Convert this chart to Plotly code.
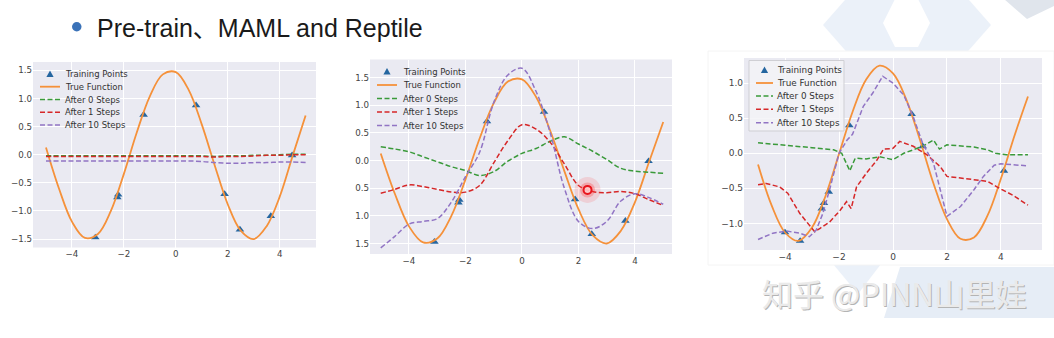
import plotly.graph_objects as go

W, H = 1054, 338

# ---------------- data ----------------
X_GRID = [-5.0, -4.5, -4.0, -3.5, -3.0, -2.5, -2.0, -1.5, -1.0, -0.5, 0.0,
          0.5, 1.0, 1.5, 2.0, 2.5, 3.0, 3.5, 4.0, 4.5, 5.0]

# task shown in the Pre-train and MAML panels
TRUE_A = [0.13, -0.60, -1.19, -1.48, -1.41, -1.00, -0.34, 0.40, 1.04, 1.43, 1.47,
          1.15, 0.54, -0.19, -0.88, -1.35, -1.50, -1.27, -0.75, -0.02, 0.70]
POINTS_A_X = [-3.10, -2.25, -2.22, -1.24, 0.78, 1.88, 2.47, 3.66, 4.48]
POINTS_A_Y = [-1.47, -0.76, -0.71, 0.71, 0.88, -0.70, -1.33, -1.09, -0.01]

PRE_STEP0 = [-0.02, -0.02, -0.02, -0.02, -0.02, -0.02, -0.02, -0.02, -0.02, -0.02, -0.02,
             -0.02, -0.02, -0.03, -0.02, -0.02, -0.01, -0.01, 0.00, 0.01, 0.01]
PRE_STEP1 = [-0.03, -0.03, -0.03, -0.03, -0.03, -0.03, -0.03, -0.03, -0.03, -0.03, -0.03,
             -0.03, -0.03, -0.04, -0.03, -0.03, -0.02, -0.01, -0.01, 0.00, 0.00]
PRE_STEP10 = [-0.11, -0.11, -0.11, -0.11, -0.11, -0.11, -0.11, -0.11, -0.11, -0.11, -0.11,
              -0.11, -0.12, -0.14, -0.15, -0.15, -0.14, -0.14, -0.13, -0.13, -0.14]

MAML_STEP0 = [0.25, 0.21, 0.16, 0.07, -0.02, -0.11, -0.18, -0.27, -0.20, -0.01, 0.13,
              0.22, 0.35, 0.43, 0.30, 0.17, 0.02, -0.14, -0.19, -0.21, -0.23]
MAML_STEP1 = [-0.59, -0.52, -0.44, -0.47, -0.52, -0.57, -0.57, -0.45, -0.04, 0.36, 0.65,
              0.57, 0.33, -0.06, -0.45, -0.56, -0.58, -0.56, -0.60, -0.71, -0.81]
MAML_STEP10 = [-1.58, -1.37, -1.15, -1.10, -1.05, -0.75, -0.29, 0.15, 1.05, 1.55, 1.67,
               1.25, 0.50, -0.50, -1.10, -1.23, -1.10, -0.73, -0.60, -0.67, -0.79]
CURSOR_X = [2.32]
CURSOR_Y = [-0.53]

# task shown in the Reptile panel
TRUE_B = [-0.16, -0.74, -1.13, -1.25, -1.06, -0.61, -0.01, 0.59, 1.05, 1.25, 1.14,
          0.76, 0.19, -0.43, -0.94, -1.22, -1.20, -0.89, -0.36, 0.25, 0.81]
POINTS_B_X = [-4.00, -3.44, -2.64, -2.56, -2.38, -1.62, 0.69, 1.10, 4.11]
POINTS_B_Y = [-1.13, -1.25, -0.79, -0.71, -0.55, 0.40, 0.56, 0.10, -0.25]

REP_STEP0_X = [-5.0, -4.0, -3.0, -2.2, -1.9, -1.6, -1.4, -1.0, -0.5, 0.0, 0.4, 0.75,
               1.1, 1.5, 1.72, 2.0, 2.5, 3.0, 3.5, 3.8, 4.2, 5.0]
REP_STEP0_Y = [0.15, 0.12, 0.08, 0.05, 0.00, -0.25, -0.07, -0.08, -0.05, -0.09, 0.00, 0.05,
               0.10, 0.19, 0.06, 0.12, 0.11, 0.09, 0.05, 0.00, -0.02, -0.02]
REP_STEP1_X = [-5.0, -4.7, -4.2, -3.9, -3.45, -3.05, -2.9, -2.7, -2.35, -1.95, -1.72, -1.55,
               -1.35, -1.0, -0.6, -0.35, 0.0, 0.25, 0.75, 1.25, 1.75, 2.0, 2.75, 3.5,
               3.85, 4.45, 5.0]
REP_STEP1_Y = [-0.45, -0.43, -0.48, -0.57, -0.86, -1.05, -1.12, -1.07, -0.98, -0.81, -0.69, -0.79,
               -0.48, -0.29, -0.10, 0.06, 0.07, 0.17, 0.10, -0.02, -0.19, -0.33, -0.36, -0.40,
               -0.48, -0.60, -0.74]
REP_STEP10_X = [-5.0, -4.45, -3.95, -3.45, -3.1, -2.85, -2.6, -2.35, -2.0, -1.7, -1.5, -1.35,
                -1.1, -0.75, -0.38, 0.0, 0.4, 0.75, 1.1, 1.5, 1.75, 2.0, 2.5, 3.0, 3.35,
                3.75, 4.0, 4.7, 5.0]
REP_STEP10_Y = [-1.23, -1.14, -1.11, -1.14, -1.19, -1.10, -0.86, -0.52, 0.00, 0.19, 0.27, 0.43,
                0.67, 0.86, 1.10, 1.00, 0.83, 0.52, 0.14, -0.14, -0.50, -0.90, -0.76, -0.52,
                -0.33, -0.17, -0.15, -0.17, -0.18]

LEGEND_LABELS = ["Training Points", "True Function", "After 0 Steps", "After 1 Steps", "After 10 Steps"]
X_TICKS = [-4, -2, 0, 2, 4]
Y_TICKS_A = [-1.5, -1.0, -0.5, 0.0, 0.5, 1.0, 1.5]
Y_TICKTEXT_MAML = ["1.5", "1.0", "0.5", "0.0", "0.5", "1.0", "1.5"]
Y_TICKS_B = [-1.0, -0.5, 0.0, 0.5, 1.0]
TITLE = "Pre-train、MAML and Reptile"
WATERMARK = "知乎 @PINN山里娃"

# ---------------- style ----------------
C_BLUE = "#2566a0"
C_ORANGE = "#f5913a"
C_GREEN = "#3a9a3a"
C_RED = "#d62728"
C_PURPLE = "#9174c4"
BG = "#eaeaf2"
DASH = "5px,2.5px"


def fx(p):
    return p / W


def fy(p):
    return 1 - p / H


def poly(pts):
    return "M " + " L ".join(f"{fx(a):.5f},{fy(b):.5f}" for a, b in pts) + " Z"


# pixel geometry of the three panels
PANELS = [
    dict(x0=33, x1=316, y0=62, y1=247.5, xr=[-5.5, 5.4], yr=[-1.65, 1.65], fs=8.7),
    dict(x0=370, x1=672, y0=59.5, y1=254, xr=[-5.38, 5.31], yr=[-1.69, 1.83], fs=8.7),
    dict(x0=744, x1=1042, y0=58, y1=250, xr=[-5.52, 5.52], yr=[-1.38, 1.36], fs=9),
]
LEGENDS = [
    dict(s0=40, s1=60, tx=64, rows=[74, 86.7, 99.5, 112.3, 125]),
    dict(s0=377, s1=397, tx=402, rows=[71.5, 85, 98.5, 112, 125.5]),
    dict(s0=756, s1=773, tx=776, rows=[70, 83, 96, 109.3, 122.7], frame=(749, 60.5, 844, 131)),
]

fig = go.Figure()

panel_series = [
    dict(px=X_GRID, true=TRUE_A, ptx=POINTS_A_X, pty=POINTS_A_Y,
         steps=[(X_GRID, PRE_STEP0), (X_GRID, PRE_STEP1), (X_GRID, PRE_STEP10)], shape="spline"),
    dict(px=X_GRID, true=TRUE_A, ptx=POINTS_A_X, pty=POINTS_A_Y,
         steps=[(X_GRID, MAML_STEP0), (X_GRID, MAML_STEP1), (X_GRID, MAML_STEP10)], shape="spline"),
    dict(px=X_GRID, true=TRUE_B, ptx=POINTS_B_X, pty=POINTS_B_Y,
         steps=[(REP_STEP0_X, REP_STEP0_Y), (REP_STEP1_X, REP_STEP1_Y), (REP_STEP10_X, REP_STEP10_Y)],
         shape="linear"),
]
step_colors = [C_GREEN, C_RED, C_PURPLE]

for i, s in enumerate(panel_series):
    xa = "x" if i == 0 else f"x{i+1}"
    ya = "y" if i == 0 else f"y{i+1}"
    fig.add_trace(go.Scatter(x=s["ptx"], y=s["pty"], mode="markers", xaxis=xa, yaxis=ya,
                             marker=dict(symbol="triangle-up", size=7.5, color=C_BLUE),
                             hoverinfo="skip"))
    fig.add_trace(go.Scatter(x=s["px"], y=s["true"], mode="lines", xaxis=xa, yaxis=ya,
                             line=dict(color=C_ORANGE, width=1.8, shape="spline"),
                             hoverinfo="skip"))
    for (sx, sy), col in zip(s["steps"], step_colors):
        fig.add_trace(go.Scatter(x=sx, y=sy, mode="lines", xaxis=xa, yaxis=ya,
                                 line=dict(color=col, width=1.5, dash=DASH, shape=s["shape"]),
                                 hoverinfo="skip"))
    if i == 1:
        fig.add_trace(go.Scatter(x=CURSOR_X, y=CURSOR_Y, mode="markers", xaxis=xa, yaxis=ya,
                                 marker=dict(size=26, color="rgba(255,70,70,0.16)"), hoverinfo="skip"))
        fig.add_trace(go.Scatter(x=CURSOR_X, y=CURSOR_Y, mode="markers", xaxis=xa, yaxis=ya,
                                 marker=dict(size=15, color="rgba(255,50,50,0.28)"), hoverinfo="skip"))
        fig.add_trace(go.Scatter(x=CURSOR_X, y=CURSOR_Y, mode="markers", xaxis=xa, yaxis=ya,
                                 marker=dict(size=8, color="rgba(255,200,200,0.9)",
                                             line=dict(color="#e8141c", width=2)),
                                 hoverinfo="skip"))

layout = dict(
    width=W, height=H, autosize=False, template="none",
    margin=dict(l=0, r=0, t=0, b=0, pad=0),
    paper_bgcolor="white", plot_bgcolor="rgba(0,0,0,0)",
    showlegend=False,
    font=dict(family="DejaVu Sans", size=8.7, color="#444444"),
)
for i, p in enumerate(PANELS):
    xk = "xaxis" if i == 0 else f"xaxis{i+1}"
    yk = "yaxis" if i == 0 else f"yaxis{i+1}"
    xa = "x" if i == 0 else f"x{i+1}"
    ya = "y" if i == 0 else f"y{i+1}"
    layout[xk] = dict(domain=[fx(p["x0"]), fx(p["x1"])], range=p["xr"], anchor=ya,
                      tickvals=X_TICKS, ticks="", showgrid=True, gridcolor="white", gridwidth=1,
                      zeroline=False, showline=False, automargin=False,
                      tickfont=dict(size=p["fs"], color="#444444"))
    if i == 2:
        yt = dict(tickvals=Y_TICKS_B, tickformat=".1f")
    elif i == 1:
        yt = dict(tickvals=Y_TICKS_A, ticktext=Y_TICKTEXT_MAML)
    else:
        yt = dict(tickvals=Y_TICKS_A, tickformat=".1f")
    layout[yk] = dict(domain=[fy(p["y1"]), fy(p["y0"])], range=p["yr"], anchor=xa,
                      ticks="", showgrid=True, gridcolor="white", gridwidth=1,
                      zeroline=False, showline=False, automargin=False,
                      tickfont=dict(size=p["fs"], color="#444444"), **yt)

shapes = []
# slide decoration (light blue hexagon motif)
deco_fill = "#ebf1f9"
shapes.append(dict(type="path", xref="paper", yref="paper", layer="below",
                   path=poly([(823, 25), (852, 58), (962, 58), (991, 25), (962, -8), (852, -8)]),
                   fillcolor=deco_fill, line=dict(width=0)))
shapes.append(dict(type="path", xref="paper", yref="paper", layer="below",
                   path=poly([(883, 23), (895, 47), (918, 47), (930, 23), (918, -1), (895, -1)]),
                   fillcolor="white", line=dict(width=0)))
shapes.append(dict(type="path", xref="paper", yref="paper", layer="below",
                   path=poly([(1004, -1), (1054, -1), (1054, 6), (1027, 19)]),
                   fillcolor="#e0e5ec", line=dict(width=0)))
shapes.append(dict(type="path", xref="paper", yref="paper", layer="below",
                   path=poly([(833, 264), (881, 264), (858, 294)]),
                   fillcolor=deco_fill, line=dict(width=0)))
shapes.append(dict(type="path", xref="paper", yref="paper", layer="below",
                   path=poly([(900, 267), (1055, 267), (1055, 318), (884, 318)]),
                   fillcolor="#e6edf6", line=dict(width=0)))
# white figure area of the third chart
shapes.append(dict(type="rect", xref="paper", yref="paper", layer="below",
                   x0=fx(708), x1=fx(1054), y0=fy(265), y1=fy(51),
                   fillcolor="white", line=dict(width=1, color="#f4f4f4")))
# plot area backgrounds
for p in PANELS:
    shapes.append(dict(type="rect", xref="paper", yref="paper", layer="below",
                       x0=fx(p["x0"]), x1=fx(p["x1"]), y0=fy(p["y1"]), y1=fy(p["y0"]),
                       fillcolor=BG, line=dict(width=0)))
# bullet of the slide title
shapes.append(dict(type="circle", xref="paper", yref="paper", layer="above",
                   x0=fx(72), x1=fx(81.5), y0=fy(31.5), y1=fy(22),
                   fillcolor="#3a72b8", line=dict(width=0)))

annotations = []
legend_styles = [None, (C_ORANGE, "solid", 1.8), (C_GREEN, DASH, 1.5), (C_RED, DASH, 1.5), (C_PURPLE, DASH, 1.5)]
for i, lg in enumerate(LEGENDS):
    fs = PANELS[i]["fs"]
    if "frame" in lg:
        a, b, c, d = lg["frame"]
        shapes.append(dict(type="rect", xref="paper", yref="paper", layer="above",
                           x0=fx(a), x1=fx(c), y0=fy(d), y1=fy(b),
                           fillcolor="rgba(243,243,247,0.85)", line=dict(width=1, color="#cfcfd4")))
    for j, (label, row) in enumerate(zip(LEGEND_LABELS, lg["rows"])):
        if j == 0:
            cx = (lg["s0"] + lg["s1"]) / 2
            shapes.append(dict(type="path", xref="paper", yref="paper", layer="above",
                               path=poly([(cx - 3.6, row + 3), (cx + 3.6, row + 3), (cx, row - 3.6)]),
                               fillcolor=C_BLUE, line=dict(width=0)))
        else:
            col, dsh, wd = legend_styles[j]
            shapes.append(dict(type="line", xref="paper", yref="paper", layer="above",
                               x0=fx(lg["s0"]), x1=fx(lg["s1"]), y0=fy(row), y1=fy(row),
                               line=dict(color=col, width=wd, dash=dsh)))
        annotations.append(dict(text=label, x=fx(lg["tx"]), y=fy(row), xref="paper", yref="paper",
                                xanchor="left", yanchor="middle", showarrow=False, borderpad=0,
                                font=dict(family="DejaVu Sans", size=fs - 0.2, color="#333333")))

annotations.append(dict(text=TITLE, x=fx(95), y=fy(27.5), xref="paper", yref="paper",
                        xanchor="left", yanchor="middle", showarrow=False,
                        font=dict(family="Liberation Sans, Noto Sans CJK SC", size=25, color="#1a1a1a")))
annotations.append(dict(text=WATERMARK, x=fx(894), y=fy(292), xref="paper", yref="paper",
                        xanchor="center", yanchor="middle", showarrow=False, xshift=1.0, yshift=-1.0,
                        font=dict(family="Noto Sans CJK SC", size=31, color="#b4b4b4")))
annotations.append(dict(text=WATERMARK, x=fx(894), y=fy(292), xref="paper", yref="paper",
                        xanchor="center", yanchor="middle", showarrow=False,
                        font=dict(family="Noto Sans CJK SC", size=31, color="#eaeaea")))

layout["shapes"] = shapes
layout["annotations"] = annotations
fig.update_layout(**layout)

fig.write_html("out.html")
